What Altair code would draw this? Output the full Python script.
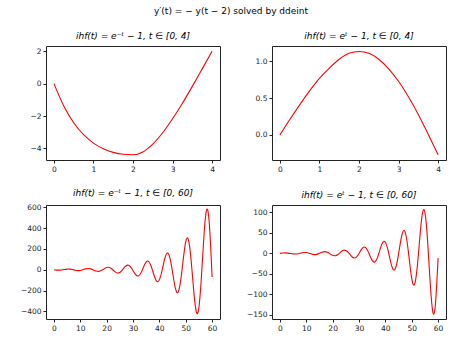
import altair as alt
import pandas as pd

# ---- data ----
top_t = [0, 0.25, 0.5, 0.75, 1.0, 1.25, 1.5, 1.75, 2.0, 2.25, 2.5, 2.75, 3.0, 3.25, 3.5, 3.75, 4.0]
tl_y = [0, -1.38, -2.41, -3.15, -3.67, -4.02, -4.24, -4.36, -4.39, -4.21, -3.73, -3.03,
        -2.17, -1.21, -0.17, 0.91, 2.0]
tr_y = [0, 0.21, 0.41, 0.60, 0.77, 0.91, 1.03, 1.11, 1.135, 1.11, 1.03, 0.90,
        0.73, 0.52, 0.28, 0.01, -0.27]

bot_t = list(range(0, 61))
bl_y = [0, -3.67, -4.39, -2.17, 2.0, 5.56, 5.70, 1.6, -4.5, -8.5,
        -7.1, -0.2, 8.1, 12.1, 8.0, -2.6, -13.3, -16.4, -8.2, 7.6,
        20.8, 21.3, 6.5, -15.8, -30.9, -26.3, -1.8, 28.6, 44.0, 30.2,
        -8.0, -47.7, -60.1, -31.2, 25.8, 74.7, 78.6, 26.2, -55.1, -111.7,
        -97.7, -10.1, 101.2, 159.9, 113.5, -24.1, -170.0, -219.7, -119.3, 86.8,
        268.4, 289.1, 103.7, -191.9, -403.5, -362.0, -49.4, 357.4, 581.0, 424.5,
        -69.7]
br_y = [0, 0.77, 1.14, 0.73, -0.27, -1.27, -1.53, -0.7, 0.8, 2.0,
        2.0, 0.5, -1.7, -3.0, -2.4, 0.05, 2.9, 4.2, 2.7, -1.1,
        -4.8, -5.7, -2.7, 2.9, 7.4, 7.3, 2.0, -5.8, -10.9, -9.0,
        -0.2, 10.4, 15.4, 10.1, -3.5, -17.1, -20.9, -10.2, 9.9, 26.6,
        27.1, 8.0, -20.4, -39.4, -33.3, -1.9, 36.8, 56.0, 38.1, -10.8,
        -61.1, -76.4, -39.1, 33.6, 95.5, 99.7, 32.3, -71.2, -142.5, -123.6,
        -11.3]

titles = [
    "ihf(t) = e\u207b\u1d57 \u2212 1, t \u2208 [0, 4]",
    "ihf(t) = e\u1d57 \u2212 1, t \u2208 [0, 4]",
    "ihf(t) = e\u207b\u1d57 \u2212 1, t \u2208 [0, 60]",
    "ihf(t) = e\u1d57 \u2212 1, t \u2208 [0, 60]",
]
suptitle = "y\u2032(t) = \u2212 y(t \u2212 2) solved by ddeint"

top_xticks = [0, 1, 2, 3, 4]
bot_xticks = [0, 10, 20, 30, 40, 50, 60]
tl_yticks = [-4, -2, 0, 2]
tr_yticks = [0.0, 0.5, 1.0]
bl_yticks = [-400, -200, 0, 200, 400, 600]
br_yticks = [-150, -100, -50, 0, 50, 100]

FONT = "DejaVu Sans"


def panel(t, y, title, xdom, xticks, ydom, yticks, yfmt, interp):
    df = pd.DataFrame({"t": t, "y": y})
    return (
        alt.Chart(df, title=alt.TitleParams(
            title, font=FONT, fontSize=9, fontStyle="italic", fontWeight="normal",
            anchor="middle", offset=5, color="black"))
        .mark_line(color="#ff0000", strokeWidth=1.1, interpolate=interp, clip=True)
        .encode(
            x=alt.X("t:Q", title=None,
                    scale=alt.Scale(domain=xdom, nice=False, zero=False),
                    axis=alt.Axis(values=xticks, format="d")),
            y=alt.Y("y:Q", title=None,
                    scale=alt.Scale(domain=ydom, nice=False, zero=False),
                    axis=alt.Axis(values=yticks, format=yfmt, minExtent=30)),
        )
        .properties(width=174, height=114)
    )


tl = panel(top_t, tl_y, titles[0], [-0.2, 4.2], top_xticks, [-4.71, 2.32], tl_yticks, "d", "monotone")
tr = panel(top_t, tr_y, titles[1], [-0.2, 4.2], top_xticks, [-0.34, 1.21], tr_yticks, ".1f", "monotone")
bl = panel(bot_t, bl_y, titles[2], [-3, 63], bot_xticks, [-474, 622], bl_yticks, "d", "natural")
br = panel(bot_t, br_y, titles[3], [-3, 63], bot_xticks, [-160, 118], br_yticks, "d", "natural")

chart = (
    alt.concat(tl, tr, bl, br, columns=2, spacing={"row": 15, "column": 20},
               title=alt.TitleParams(suptitle, font=FONT, fontSize=9, fontWeight="normal",
                                     anchor="middle", color="black", offset=16))
    .properties(padding={"left": 15, "top": 6, "right": 5, "bottom": 5}, background="white")
    .configure_view(stroke="#222222", strokeWidth=1)
    .configure_axis(
        domain=False, grid=False,
        tickColor="#222222", tickSize=3, tickWidth=1,
        labelFont=FONT, labelFontSize=7.5, labelColor="#222222", labelPadding=2,
    )
)

chart.save("out.html", embed_options={"renderer": "svg", "actions": False})
